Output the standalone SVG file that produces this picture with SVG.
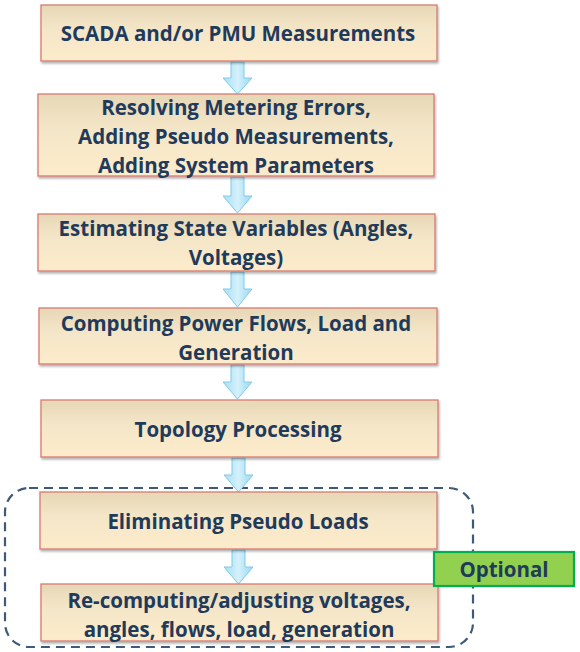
<svg xmlns="http://www.w3.org/2000/svg" width="580" height="652" viewBox="0 0 580 652">
<defs>
<linearGradient id="boxg" x1="0" y1="0" x2="0" y2="1">
<stop offset="0" stop-color="#e6d8b6"/>
<stop offset="0.45" stop-color="#f4e6c8"/>
<stop offset="1" stop-color="#fdeccb"/>
</linearGradient>
<linearGradient id="arrg" x1="0" y1="0" x2="1" y2="0">
<stop offset="0" stop-color="#a6def4"/>
<stop offset="0.5" stop-color="#d4f1fb"/>
<stop offset="1" stop-color="#9bd8f1"/>
</linearGradient>
<filter id="sh" x="-5%" y="-10%" width="110%" height="130%">
<feDropShadow dx="1" dy="2" stdDeviation="1.2" flood-color="#000" flood-opacity="0.3"/>
</filter>
</defs>
<style>
.box{fill:url(#boxg);stroke:#d77a70;stroke-width:1.3;filter:url(#sh)}
.t{font-family:"Open Sans","Noto Sans","DejaVu Sans",sans-serif;font-weight:bold;font-size:20.5px;fill:#1f3a5a;text-anchor:middle;dominant-baseline:central}
.arr{fill:url(#arrg);stroke:#7fcbe9;stroke-width:1}
</style>
<rect width="580" height="652" fill="#ffffff"/>
<g id="optional-group">
<rect x="5" y="488" width="468" height="159" rx="24" ry="24" fill="none" stroke="#3d5a78" stroke-width="2.2" stroke-dasharray="9,6"/>
</g>
<g id="connectors">
<path class="arr" d="M231,62 H244 V78 H252 L237.5,94 L223,78 H231 Z"/>
<path class="arr" d="M231,177 H244 V196 H252 L237.5,213 L223,196 H231 Z"/>
<path class="arr" d="M231,272 H244 V289 H252 L237.5,307 L223,289 H231 Z"/>
<path class="arr" d="M231,365 H244 V382 H252 L237.5,399 L223,382 H231 Z"/>
<path class="arr" d="M232,458 H245 V475 H253 L238.5,492 L224,475 H232 Z"/>
<path class="arr" d="M232,550 H245 V567 H253 L238.5,584 L224,567 H232 Z"/>
</g>
<g id="n1"><rect class="box" x="41" y="5" width="396" height="56"/><text class="t" x="238" y="33">SCADA and/or PMU Measurements</text></g>
<g id="n2"><rect class="box" x="38" y="94" width="396" height="82"/>
<text class="t" x="236" y="107">Resolving Metering Errors,</text>
<text class="t" x="236" y="136">Adding Pseudo Measurements,</text>
<text class="t" x="236" y="165">Adding System Parameters</text></g>
<g id="n3"><rect class="box" x="38" y="214" width="397" height="57"/>
<text class="t" x="236" y="228">Estimating State Variables (Angles,</text>
<text class="t" x="236" y="257">Voltages)</text></g>
<g id="n4"><rect class="box" x="39" y="308" width="398" height="56"/>
<text class="t" x="236" y="323">Computing Power Flows, Load and</text>
<text class="t" x="236" y="352">Generation</text></g>
<g id="n5"><rect class="box" x="41" y="400" width="397" height="57"/>
<text class="t" x="238" y="429">Topology Processing</text></g>
<g id="n6"><rect class="box" x="40" y="492" width="397" height="57"/>
<text class="t" x="238" y="521">Eliminating Pseudo Loads</text></g>
<g id="n7"><rect class="box" x="41" y="584" width="397" height="57"/>
<text class="t" x="239" y="600">Re-computing/adjusting voltages,</text>
<text class="t" x="239" y="629">angles, flows, load, generation</text></g>
<g id="optional"><rect x="434" y="552" width="140" height="34" fill="#92d050" stroke="#00b050" stroke-width="2.2"/>
<text class="t" x="504" y="569">Optional</text></g>
</svg>
